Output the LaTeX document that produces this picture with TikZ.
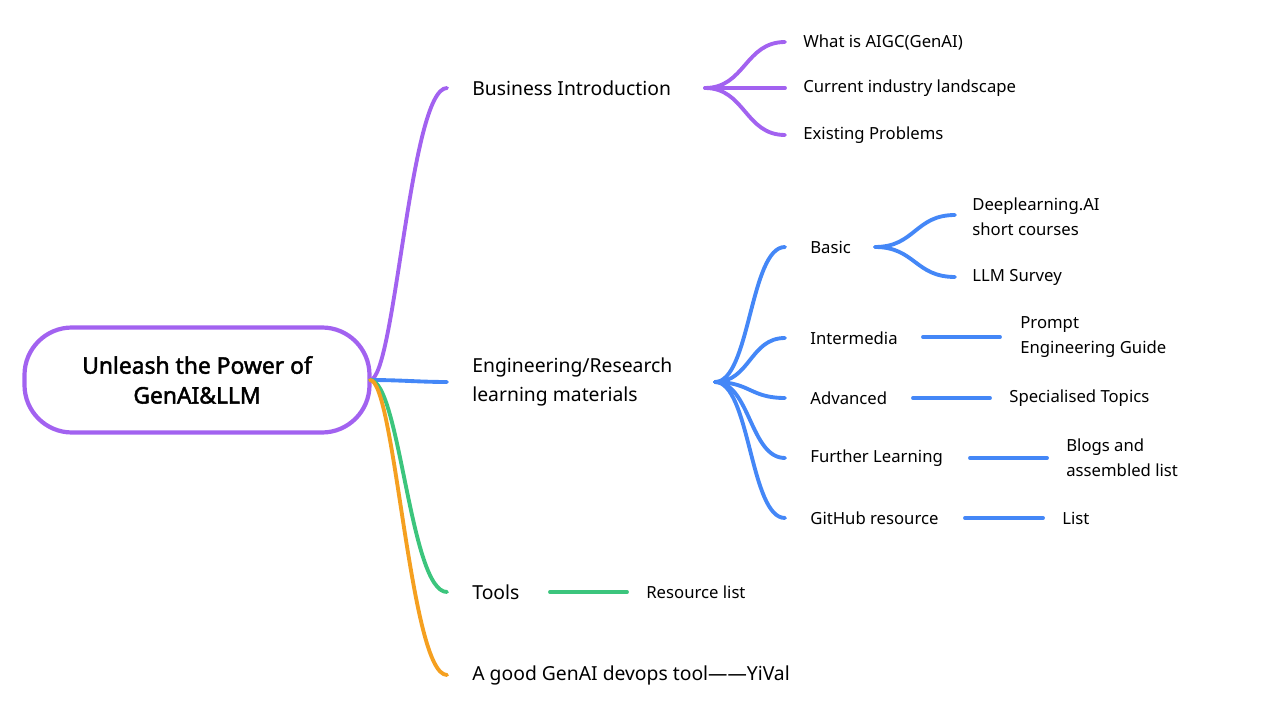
\documentclass[tikz,border=0pt]{standalone}
\usepackage{fontspec}
\setmainfont{Noto Sans}[AutoFakeBold=2]
\begin{document}
\begin{tikzpicture}[x=0.02cm,y=-0.02cm,
  l1/.style={anchor=west,inner sep=0pt,font=\fontsize{11}{16}\selectfont,align=left},
  l2/.style={anchor=west,inner sep=0pt,font=\fontsize{9.5}{14.5}\selectfont,align=left},
  ln/.style={line width=2.2pt,line cap=round},
  cpur/.style={ln,draw=purp}, cblu/.style={ln,draw=blu}]
\definecolor{purp}{HTML}{A262F0}
\definecolor{blu}{HTML}{4487F7}
\definecolor{grn}{HTML}{3CC57D}
\definecolor{org}{HTML}{F5A020}
\useasboundingbox (0,0) rectangle (1280,722);
\node[draw=purp,line width=2.4pt,rounded corners=0.95cm,minimum width=345*0.02cm,minimum height=105*0.02cm,align=center,font=\bfseries\fontsize{13}{17}\selectfont] (root) at (197,380) {Unleash the Power of\\GenAI\&LLM};
\coordinate (r) at (370,380);
% level 1
\coordinate (e1) at (447,88); \coordinate (e2) at (447,382); \coordinate (e3) at (447,592); \coordinate (e4) at (447,675);
\draw[cpur] (r) .. controls (395,380) and (410,88) .. (e1);
\draw[cblu] (r) .. controls (400,380) and (420,382) .. (e2);
\draw[ln,draw=grn] (r) .. controls (400,380) and (410,592) .. (e3);
\draw[ln,draw=org] (r) .. controls (395,380) and (410,675) .. (e4);
\node[l1] (bi) at (472,88) {Business Introduction};
\node[l1] (er) at (472,382) {Engineering/Research\\learning materials};
\node[l1] (to) at (472,592) {Tools};
\node[l1] (yv) at (472,675) {A good GenAI devops tool——YiVal};
% business
\coordinate (h1) at (705,88);
\foreach \y/\t [count=\i] in {42/What is AIGC(GenAI),88/Current industry landscape,135/Existing Problems}{
  \coordinate (b\i) at (785,\y);
  \draw[cpur] (h1) .. controls (745,88) and (745,\y) .. (b\i);
  \node[l2] (bt\i) at (803,\y) {\t};
}
% engineering
\coordinate (h2) at (715,382);
\foreach \y/\t [count=\i] in {247/Basic,338/Intermedia,398/Advanced,458/Further Learning,518/GitHub resource}{
  \coordinate (g\i) at (785,\y);
  \draw[cblu] (h2) .. controls (750,382) and (750,\y) .. (g\i);
  \node[l2] (gt\i) at (810,\y) {\t};
}
\coordinate (h3) at (875,247);
\coordinate (d1) at (955,215); \coordinate (d2) at (955,277);
\draw[cblu] (h3) .. controls (915,247) and (915,215) .. (d1);
\draw[cblu] (h3) .. controls (915,247) and (915,277) .. (d2);
\node[l2] (dt1) at (972,217) {Deeplearning.AI\\short courses};
\node[l2] (dt2) at (972,277) {LLM Survey};
\coordinate (i1) at (923,337); \coordinate (i2) at (1000,337);
\draw[cblu] (i1) -- (i2);
\node[l2] (it) at (1020,337) {Prompt\\Engineering Guide};
\coordinate (a1) at (913,398); \coordinate (a2) at (990,398);
\draw[cblu] (a1) -- (a2);
\node[l2] (at) at (1009,398) {Specialised Topics};
\coordinate (f1) at (970,458); \coordinate (f2) at (1047,458);
\draw[cblu] (f1) -- (f2);
\node[l2] (ft) at (1066,458) {Blogs and\\assembled list};
\coordinate (k1) at (965,518); \coordinate (k2) at (1043,518);
\draw[cblu] (k1) -- (k2);
\node[l2] (kt) at (1062,518) {List};
\coordinate (t1) at (550,592); \coordinate (t2) at (627,592);
\draw[ln,draw=grn] (t1) -- (t2);
\node[l2] (tt) at (646,592) {Resource list};
\end{tikzpicture}
\end{document}
